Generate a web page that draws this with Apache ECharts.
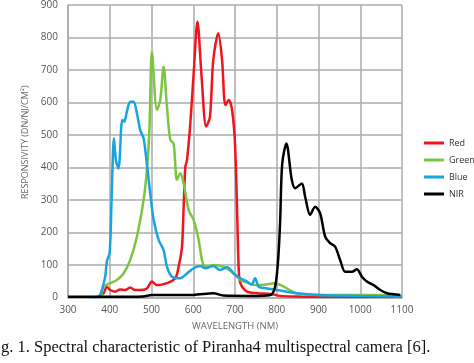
<!DOCTYPE html>
<html>
<head>
<meta charset="utf-8">
<script src="https://cdn.jsdelivr.net/npm/echarts@6/dist/echarts.min.js"></script>
<style>
html,body{margin:0;padding:0;background:#fff;}
#c{width:474px;height:363px;}
</style>
</head>
<body>
<div id="c"></div>
<script>
const xTicks = [300, 400, 500, 600, 700, 800, 900, 1000, 1100];
const yTicks = [0, 100, 200, 300, 400, 500, 600, 700, 800, 900];

const redWl  = [370,385,393,401,413,425,437,449,461,473,489,501,513,537,557,565,573,577,581,585,593,601,610,620,631,640,648,660,669,677,685,693,700,705,709,713,729,753,785,808,850,900,1000,1100];
const redVal = [0,13,33,23,18,25,23,31,23,23,28,49,38,44,59,95,156,279,402,423,536,690,849,679,526,556,731,813,731,592,608,577,474,269,85,44,18,13,11,5,3,2,2,2];

const greenWl  = [380,385,401,417,433,449,465,481,489,495,501,513,521,529,537,545,553,561,569,577,589,601,613,621,629,650,680,700,713,730,752,775,793,810,824,850,900,950,1000,1050,1080,1100];
const greenVal = [0,33,44,54,74,115,187,300,392,515,756,577,608,710,587,485,474,362,382,351,269,238,177,115,95,100,90,70,54,45,38,40,44,38,28,12,8,8,8,8,5,3];

const blueWl  = [355,370,377,389,393,400,405,410,415,421,430,435,441,449,457,465,473,481,489,497,505,517,529,537,549,569,585,601,617,629,648,664,681,697,713,729,740,748,757,777,800,824,848,900,1000,1100];
const blueVal = [0,2,8,64,110,140,331,490,420,397,546,541,572,602,602,567,515,490,410,320,240,177,146,95,64,59,74,90,97,90,97,85,93,74,59,49,40,59,33,28,23,18,13,8,5,3];

const nirWl  = [300,400,480,500,560,600,648,672,737,785,796,803,808,813,823,836,844,860,868,880,892,904,916,928,940,952,964,980,992,1004,1016,1032,1048,1064,1080,1096];
const nirVal = [2,2,3,8,8,8,13,6,5,8,33,110,230,410,474,362,336,351,310,254,279,259,187,167,156,115,79,79,87,64,49,38,23,13,10,8];

const seriesNames = ['Red', 'Green', 'Blue', 'NIR'];
const seriesColors = ['#f0141e', '#7cc540', '#19a3e0', '#000000'];
const seriesWl = [redWl, greenWl, blueWl, nirWl];
const seriesVal = [redVal, greenVal, blueVal, nirVal];

const chart = echarts.init(document.getElementById('c'));
const gridColor = '#ababab';
chart.setOption({
  animation: false,
  backgroundColor: '#fff',
  grid: {left: 68, right: 72, top: 5, bottom: 65.5},
  xAxis: {
    type: 'value', min: xTicks[0], max: xTicks[xTicks.length-1], interval: 100,
    name: 'WAVELENGTH (NM)', nameLocation: 'middle', nameGap: 24,
    nameTextStyle: {fontFamily: 'Open Sans', fontSize: 9.5, color: '#666'},
    axisLine: {show: true, lineStyle: {color: gridColor, width: 1.5}},
    axisTick: {show: false},
    axisLabel: {fontFamily: 'Open Sans', fontSize: 10, color: '#555', margin: 8,
      formatter: v => String(v)},
    splitLine: {show: true, lineStyle: {color: gridColor, width: 1.5}}
  },
  yAxis: {
    type: 'value', min: yTicks[0], max: yTicks[yTicks.length-1], interval: 100,
    name: 'RESPONSIVITY (DN/NJ/CM²)', nameLocation: 'middle', nameGap: 22,
    nameTextStyle: {fontFamily: 'Open Sans', fontSize: 9, color: '#666', padding: [0, 0, 0, 18]},
    axisLine: {show: true, lineStyle: {color: gridColor, width: 1.5}},
    axisTick: {show: false},
    axisLabel: {fontFamily: 'Open Sans', fontSize: 10, color: '#555', margin: 10,
      formatter: v => String(v)},
    splitLine: {show: true, lineStyle: {color: gridColor, width: 1.5}}
  },
  legend: {
    orient: 'vertical', left: 424, top: 137, padding: 0,
    itemWidth: 20, itemHeight: 3, itemGap: 5, icon: 'rect',
    textStyle: {fontFamily: 'Open Sans', fontSize: 9, color: '#333', lineHeight: 12},
    data: seriesNames
  },
  series: seriesNames.map((n, i) => ({
    name: n, type: 'line', smooth: 0.3, showSymbol: false,
    lineStyle: {color: seriesColors[i], width: 2.5},
    itemStyle: {color: seriesColors[i]},
    data: seriesWl[i].map((w, j) => [w, seriesVal[i][j]])
  })),
  graphic: [{
    type: 'text', left: 1, top: 339,
    style: {text: 'g. 1. Spectral characteristic of Piranha4 multispectral camera [6].',
      fontFamily: 'Liberation Serif', fontSize: 16.5, fill: '#111'}
  }]
});
</script>
</body>
</html>
